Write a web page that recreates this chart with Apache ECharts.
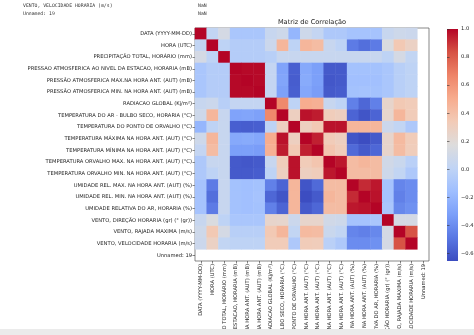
<!DOCTYPE html>
<html>
<head>
<meta charset="utf-8">
<script src="https://cdn.jsdelivr.net/npm/echarts@6/dist/echarts.min.js"></script>
<style>
html,body{margin:0;padding:0;background:#fff;}
#chart{width:474px;height:335px;}
</style>
</head>
<body>
<div id="chart"></div>
<script>
// ---- labels ----
const labels = [
  "DATA (YYYY-MM-DD)",
  "HORA (UTC)",
  "PRECIPITAÇÃO TOTAL, HORÁRIO (mm)",
  "PRESSAO ATMOSFERICA AO NIVEL DA ESTACAO, HORARIA (mB)",
  "PRESSÃO ATMOSFERICA MAX.NA HORA ANT. (AUT) (mB)",
  "PRESSÃO ATMOSFERICA MIN. NA HORA ANT. (AUT) (mB)",
  "RADIACAO GLOBAL (Kj/m²)",
  "TEMPERATURA DO AR - BULBO SECO, HORARIA (°C)",
  "TEMPERATURA DO PONTO DE ORVALHO (°C)",
  "TEMPERATURA MÁXIMA NA HORA ANT. (AUT) (°C)",
  "TEMPERATURA MÍNIMA NA HORA ANT. (AUT) (°C)",
  "TEMPERATURA ORVALHO MAX. NA HORA ANT. (AUT) (°C)",
  "TEMPERATURA ORVALHO MIN. NA HORA ANT. (AUT) (°C)",
  "UMIDADE REL. MAX. NA HORA ANT. (AUT) (%)",
  "UMIDADE REL. MIN. NA HORA ANT. (AUT) (%)",
  "UMIDADE RELATIVA DO AR, HORARIA (%)",
  "VENTO, DIREÇÃO HORARIA (gr) (° (gr))",
  "VENTO, RAJADA MAXIMA (m/s)",
  "VENTO, VELOCIDADE HORARIA (m/s)",
  "Unnamed: 19"
];

// ---- correlation rows (Unnamed: 19 is NaN everywhere) ----
const rData  = [ 1.00, 0.02, 0.12,-0.10,-0.10,-0.10, 0.05, 0.08,-0.20, 0.08, 0.03,-0.08,-0.08,-0.12,-0.12,-0.12, 0.05, 0.08, 0.07, null];
const rHora  = [ 0.02, 1.00, 0.00,-0.05,-0.05,-0.05, 0.07, 0.45, 0.00, 0.45, 0.42, 0.05, 0.00,-0.47,-0.52,-0.47, 0.15, 0.35, 0.28, null];
const rPrec  = [ 0.12, 0.00, 1.00,-0.05,-0.05,-0.05,-0.03, 0.05, 0.05, 0.05, 0.05, 0.05, 0.05, 0.05, 0.05, 0.05, 0.00, 0.12, 0.02, null];
const rPEst  = [-0.10,-0.05,-0.05, 1.00, 0.99, 0.99, 0.03,-0.30,-0.58,-0.27,-0.32,-0.60,-0.60,-0.13,-0.13,-0.13,-0.10,-0.03, 0.00, null];
const rPMax  = [-0.10,-0.05,-0.05, 0.99, 1.00, 0.99, 0.03,-0.29,-0.59,-0.26,-0.32,-0.61,-0.60,-0.14,-0.14,-0.14,-0.10,-0.03, 0.00, null];
const rPMin  = [-0.10,-0.05,-0.05, 0.99, 0.99, 1.00, 0.03,-0.31,-0.58,-0.28,-0.33,-0.60,-0.59,-0.13,-0.12,-0.13,-0.10,-0.03, 0.00, null];
const rRad   = [ 0.05, 0.07,-0.03, 0.03, 0.03, 0.03, 1.00, 0.65, 0.00, 0.50, 0.48, 0.05, 0.00,-0.45,-0.55,-0.45, 0.25, 0.35, 0.33, null];
const rTAr   = [ 0.08, 0.45, 0.05,-0.30,-0.29,-0.31, 0.65, 1.00, 0.30, 0.97, 0.95, 0.32, 0.30,-0.56,-0.62,-0.56, 0.24, 0.45, 0.33, null];
const rTOrv  = [-0.20, 0.00, 0.05,-0.58,-0.59,-0.58, 0.00, 0.30, 1.00, 0.30, 0.35, 0.97, 0.97, 0.45, 0.45, 0.45, 0.07, 0.02,-0.08, null];
const rTMax  = [ 0.08, 0.45, 0.05,-0.27,-0.26,-0.28, 0.50, 0.97, 0.30, 1.00, 0.94, 0.33, 0.30,-0.62,-0.65,-0.60, 0.25, 0.43, 0.33, null];
const rTMin  = [ 0.03, 0.42, 0.05,-0.32,-0.32,-0.33, 0.48, 0.95, 0.35, 0.94, 1.00, 0.37, 0.32,-0.54,-0.60,-0.55, 0.25, 0.42, 0.32, null];
const rOMax  = [-0.08, 0.05, 0.05,-0.60,-0.61,-0.60, 0.05, 0.32, 0.97, 0.33, 0.37, 1.00, 0.96, 0.42, 0.45, 0.42, 0.10, 0.06,-0.02, null];
const rOMin  = [-0.08, 0.00, 0.05,-0.60,-0.60,-0.59, 0.00, 0.30, 0.97, 0.30, 0.32, 0.96, 1.00, 0.42, 0.42, 0.42, 0.08, 0.02,-0.08, null];
const rUMax  = [-0.12,-0.47, 0.05,-0.13,-0.14,-0.13,-0.45,-0.56, 0.45,-0.62,-0.54, 0.42, 0.42, 1.00, 0.92, 0.96,-0.12,-0.43,-0.40, null];
const rUMin  = [-0.12,-0.52, 0.05,-0.13,-0.14,-0.12,-0.55,-0.62, 0.45,-0.65,-0.60, 0.45, 0.42, 0.92, 1.00, 0.97,-0.12,-0.45,-0.40, null];
const rURel  = [-0.12,-0.47, 0.05,-0.13,-0.14,-0.13,-0.45,-0.56, 0.45,-0.60,-0.55, 0.42, 0.42, 0.96, 0.97, 1.00,-0.10,-0.42,-0.38, null];
const rVDir  = [ 0.05, 0.15, 0.00,-0.10,-0.10,-0.10, 0.25, 0.24, 0.07, 0.25, 0.25, 0.10, 0.08,-0.12,-0.12,-0.10, 1.00, 0.12, 0.12, null];
const rVRaj  = [ 0.08, 0.35, 0.12,-0.03,-0.03,-0.03, 0.35, 0.45, 0.02, 0.43, 0.42, 0.06, 0.02,-0.43,-0.45,-0.42, 0.12, 1.00, 0.83, null];
const rVVel  = [ 0.07, 0.28, 0.02, 0.00, 0.00, 0.00, 0.33, 0.33,-0.08, 0.33, 0.32,-0.02,-0.08,-0.40,-0.40,-0.38, 0.12, 0.83, 1.00, null];
const rUnn   = [null,null,null,null,null,null,null,null,null,null,null,null,null,null,null,null,null,null,null,null];

const rows = [rData,rHora,rPrec,rPEst,rPMax,rPMin,rRad,rTAr,rTOrv,rTMax,rTMin,rOMax,rOMin,rUMax,rUMin,rURel,rVDir,rVRaj,rVVel,rUnn];

// colour scale range and colorbar ticks
const vMin = -0.654, vMax = 1.0;
const cbTicks = [-0.6,-0.4,-0.2,0.0,0.2,0.4,0.6,0.8,1.0];
const coolwarm = ['#3b4cc0','#5977e3','#7b9ff9','#9ebeff','#c0d4f5','#dddcdc','#f2cbb7','#f7ac8e','#ee8468','#d65244','#b40426'];

// printed text above the chart
const printed = [["VENTO, VELOCIDADE HORARIA (m/s)","NaN"],["Unnamed: 19","NaN"]];

const heat = [];
rows.forEach((row, r) => row.forEach((v, c) => { if (v !== null) heat.push([c, r, v]); }));

const FONT = 'DejaVu Sans';
const LBL = 5.2;

const chart = echarts.init(document.getElementById('chart'), null, {renderer:'canvas'});

const gradStops = coolwarm.slice().reverse().map((col, i) => ({offset: i/(coolwarm.length-1), color: col}));

const graphics = [
  {type:'text', x:312, y:22, style:{text:'Matriz de Correlação', font:'6.6px "DejaVu Sans"', fill:'#222', textAlign:'center', textVerticalAlign:'middle'}},
  {type:'rect', shape:{x:447, y:29, width:11, height:232}, style:{fill:new echarts.graphic.LinearGradient(0,0,0,1,gradStops)}, z:0},
  {type:'rect', shape:{x:0, y:329, width:474, height:6}, style:{fill:'#ebebeb'}, z:100}
];
printed.forEach((p, i) => {
  graphics.push({type:'text', x:23, y:6 + i*7.5, style:{text:p[0], font:'4.8px "DejaVu Sans Mono"', fill:'#333', textVerticalAlign:'middle'}});
  graphics.push({type:'text', x:198, y:6 + i*7.5, style:{text:p[1], font:'4.8px "DejaVu Sans Mono"', fill:'#333', textVerticalAlign:'middle'}});
});

chart.setOption({
  animation:false,
  backgroundColor:'#fff',
  textStyle:{fontFamily:FONT},
  grid:[
    {left:195, top:28, width:234, height:233, show:true, borderColor:'#555', borderWidth:0.7, backgroundColor:'#fff', outerBoundsMode:'none', containLabel:false},
    {left:447, top:29, width:11, height:232, show:false, outerBoundsMode:'none', containLabel:false}
  ],
  xAxis:[
    {type:'category', gridIndex:0, data:labels, position:'bottom',
     axisLine:{show:false},
     axisTick:{show:true, alignWithLabel:true, length:2.5, lineStyle:{color:'#333', width:0.6}},
     axisLabel:{interval:0, rotate:90, fontSize:LBL, color:'#222', margin:3, fontFamily:FONT, hideOverlap:false},
     splitLine:{show:false}},
    {type:'value', gridIndex:1, show:false, min:0, max:1}
  ],
  yAxis:[
    {type:'category', gridIndex:0, data:labels, inverse:true,
     axisLine:{show:false},
     axisTick:{show:true, alignWithLabel:true, length:2.5, lineStyle:{color:'#333', width:0.6}},
     axisLabel:{interval:0, fontSize:LBL, color:'#222', margin:3, fontFamily:FONT, hideOverlap:false},
     splitLine:{show:false}},
    {type:'value', gridIndex:1, min:vMin, max:vMax, position:'right',
     axisLine:{show:false},
     axisTick:{show:true, length:2.5, customValues:cbTicks, lineStyle:{color:'#333', width:0.6}},
     axisLabel:{show:true, customValues:cbTicks, fontSize:LBL, color:'#222', margin:3, fontFamily:FONT,
       formatter:(v) => v.toFixed(1).replace('-', '\u2212')},
     splitLine:{show:false}}
  ],
  visualMap:{show:false, type:'continuous', min:vMin, max:vMax, dimension:2, seriesIndex:0, inRange:{color:coolwarm}},
  series:[
    {type:'heatmap', xAxisIndex:0, yAxisIndex:0, data:heat, itemStyle:{borderWidth:0}, emphasis:{disabled:true}, progressive:0}
  ],
  graphic:graphics
});
</script>
</body>
</html>
